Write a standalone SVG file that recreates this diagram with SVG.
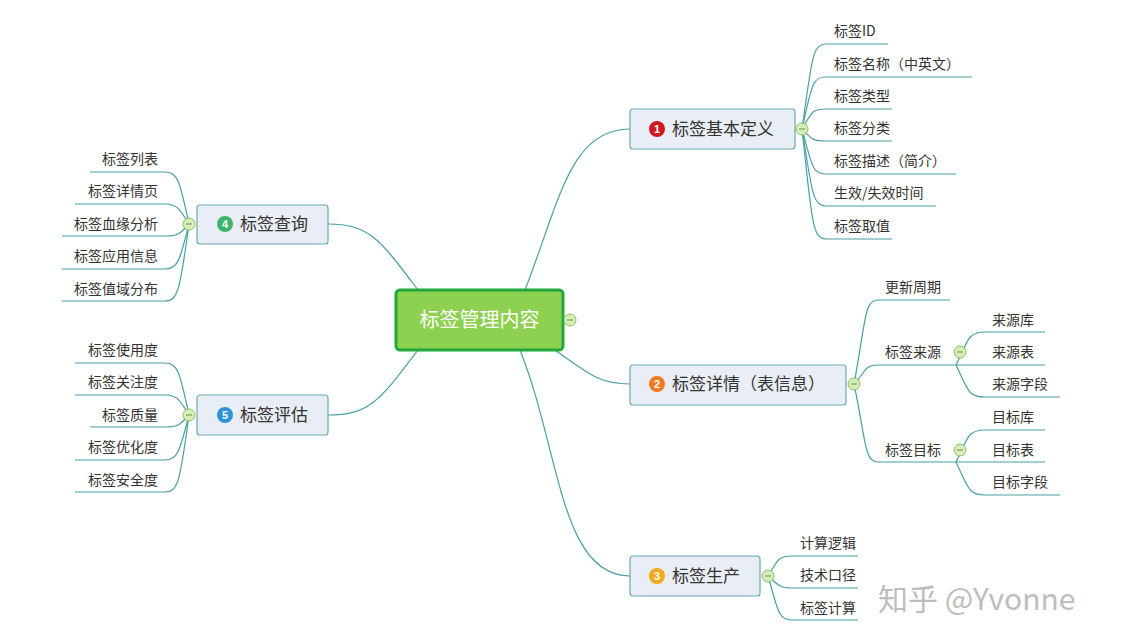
<svg xmlns="http://www.w3.org/2000/svg" width="1134" height="644" viewBox="0 0 1134 644">
<style>
text{font-family:"Noto Sans CJK SC","Liberation Sans",sans-serif;fill:#333}
.lf{font-size:14px}
.br{font-size:17px}
.nb{fill:#e9edf5;stroke:#6aa9b4;stroke-width:1.2}
.c{fill:none;stroke:#4a9fa6;stroke-width:1.2}
.col{fill:#d6eeb8;stroke:#8cbf6a;stroke-width:1}
.bd{font-size:11px;fill:#fff;font-weight:bold;font-family:"Liberation Sans",sans-serif}
</style>
<rect width="1134" height="644" fill="#fff"/>
<g id="connectors">
<path class="c" d="M525,290 C560,200 570,129 630,129"/>
<path class="c" d="M555,350 C590,375 600,384 630,384"/>
<path class="c" d="M520,350 C560,450 560,576 630,576"/>
<path class="c" d="M418,290 C380,240 370,224 328,224"/>
<path class="c" d="M418,350 C380,400 370,415 328,415"/>
<g>
<path class="c" d="M802,129 C812,60 812,44 826,44 H888"/>
<path class="c" d="M802,129 C812,85 812,77 826,77 H972"/>
<path class="c" d="M802,129 C812,112 812,109 826,109 H892"/>
<path class="c" d="M802,129 C812,139 812,141 826,141 H892"/>
<path class="c" d="M802,129 C812,165 812,174 826,174 H956"/>
<path class="c" d="M802,129 C812,190 812,206 826,206 H936"/>
<path class="c" d="M802,129 C812,220 812,239 826,239 H892"/>
</g>
<g>
<path class="c" d="M854,384 C866,320 864,300 878,300 H950"/>
<path class="c" d="M854,384 C866,372 864,365 878,365 H956"/>
<path class="c" d="M854,384 C866,440 864,462 878,462 H956"/>
<path class="c" d="M956,365 C968,340 968,332 985,332 H1045"/>
<path class="c" d="M956,365 H1045"/>
<path class="c" d="M956,365 C968,390 968,397 985,397 H1060"/>
<path class="c" d="M956,462 C968,437 968,430 985,430 H1045"/>
<path class="c" d="M956,462 H1045"/>
<path class="c" d="M956,462 C968,487 968,495 985,495 H1060"/>
</g>
<g>
<path class="c" d="M768,576 C778,560 778,556 792,556 H858"/>
<path class="c" d="M768,576 C778,584 778,588 792,588 H858"/>
<path class="c" d="M768,576 C778,610 778,620 792,620 H858"/>
</g>
<g>
<path class="c" d="M189,224 C180,182 178,172 165,172 H90"/>
<path class="c" d="M189,224 C180,210 178,204 165,204 H75"/>
<path class="c" d="M189,224 C180,234 178,236 165,236 H62"/>
<path class="c" d="M189,224 C180,260 178,269 165,269 H62"/>
<path class="c" d="M189,224 C180,290 178,301 165,301 H62"/>
</g>
<g>
<path class="c" d="M189,415 C180,373 178,363 165,363 H75"/>
<path class="c" d="M189,415 C180,401 178,395 165,395 H75"/>
<path class="c" d="M189,415 C180,425 178,427 165,427 H90"/>
<path class="c" d="M189,415 C180,450 178,460 165,460 H75"/>
<path class="c" d="M189,415 C180,482 178,492 165,492 H75"/>
</g>
</g>
<g id="center">
<rect x="396" y="290" width="167" height="60" rx="4" fill="#8ed04f" stroke="#22a83c" stroke-width="3"/>
<text x="479.5" y="327" text-anchor="middle" font-size="20" style="fill:#fff">标签管理内容</text>
<circle class="col" cx="570" cy="320" r="6"/><path d="M567,320H573" stroke="#6a8f50"/>
</g>
<g id="n1">
<rect class="nb" x="630" y="109" width="165" height="40" rx="3"/>
<circle cx="657" cy="129" r="8" fill="#d0161f"/><text class="bd" x="657" y="133" text-anchor="middle">1</text>
<text class="br" x="672" y="135">标签基本定义</text>
<circle class="col" cx="802" cy="129" r="6"/><path d="M799,129H805" stroke="#6a8f50"/>
<text class="lf" x="834" y="36">标签ID</text>
<text class="lf" x="834" y="69">标签名称（中英文）</text>
<text class="lf" x="834" y="101">标签类型</text>
<text class="lf" x="834" y="133">标签分类</text>
<text class="lf" x="834" y="166">标签描述（简介）</text>
<text class="lf" x="834" y="198">生效/失效时间</text>
<text class="lf" x="834" y="231">标签取值</text>
</g>
<g id="n2">
<rect class="nb" x="630" y="365" width="216" height="40" rx="3"/>
<circle cx="657" cy="384" r="8" fill="#f07a22"/><text class="bd" x="657" y="388" text-anchor="middle">2</text>
<text class="br" x="672" y="390">标签详情（表信息）</text>
<circle class="col" cx="854" cy="384" r="6"/><path d="M851,384H857" stroke="#6a8f50"/>
<text class="lf" x="885" y="292">更新周期</text>
<text class="lf" x="885" y="357">标签来源</text>
<circle class="col" cx="960" cy="352" r="6"/><path d="M957,352H963" stroke="#6a8f50"/>
<text class="lf" x="885" y="455">标签目标</text>
<circle class="col" cx="960" cy="450" r="6"/><path d="M957,450H963" stroke="#6a8f50"/>
<text class="lf" x="992" y="325">来源库</text>
<text class="lf" x="992" y="357">来源表</text>
<text class="lf" x="992" y="389">来源字段</text>
<text class="lf" x="992" y="422">目标库</text>
<text class="lf" x="992" y="455">目标表</text>
<text class="lf" x="992" y="487">目标字段</text>
</g>
<g id="n3">
<rect class="nb" x="630" y="556" width="130" height="40" rx="3"/>
<circle cx="657" cy="576" r="8" fill="#f5a91c"/><text class="bd" x="657" y="580" text-anchor="middle">3</text>
<text class="br" x="672" y="582">标签生产</text>
<circle class="col" cx="768" cy="576" r="6"/><path d="M765,576H771" stroke="#6a8f50"/>
<text class="lf" x="800" y="548">计算逻辑</text>
<text class="lf" x="800" y="580">技术口径</text>
<text class="lf" x="800" y="613">标签计算</text>
</g>
<g id="n4">
<rect class="nb" x="197" y="205" width="131" height="39" rx="3"/>
<circle cx="225" cy="224" r="8" fill="#3db36b"/><text class="bd" x="225" y="228" text-anchor="middle">4</text>
<text class="br" x="240" y="230">标签查询</text>
<circle class="col" cx="189" cy="224" r="6"/><path d="M186,224H192" stroke="#6a8f50"/>
<g text-anchor="end">
<text class="lf" x="158" y="164">标签列表</text>
<text class="lf" x="158" y="196">标签详情页</text>
<text class="lf" x="158" y="229">标签血缘分析</text>
<text class="lf" x="158" y="261">标签应用信息</text>
<text class="lf" x="158" y="294">标签值域分布</text>
</g>
</g>
<g id="n5">
<rect class="nb" x="197" y="395" width="131" height="40" rx="3"/>
<circle cx="225" cy="415" r="8" fill="#2f92d6"/><text class="bd" x="225" y="419" text-anchor="middle">5</text>
<text class="br" x="240" y="421">标签评估</text>
<circle class="col" cx="189" cy="415" r="6"/><path d="M186,415H192" stroke="#6a8f50"/>
<g text-anchor="end">
<text class="lf" x="158" y="355">标签使用度</text>
<text class="lf" x="158" y="387">标签关注度</text>
<text class="lf" x="158" y="420">标签质量</text>
<text class="lf" x="158" y="452">标签优化度</text>
<text class="lf" x="158" y="485">标签安全度</text>
</g>
</g>
<text x="878" y="610" font-size="30" style="fill:#bdbdbd">知乎 @Yvonne</text>
</svg>
